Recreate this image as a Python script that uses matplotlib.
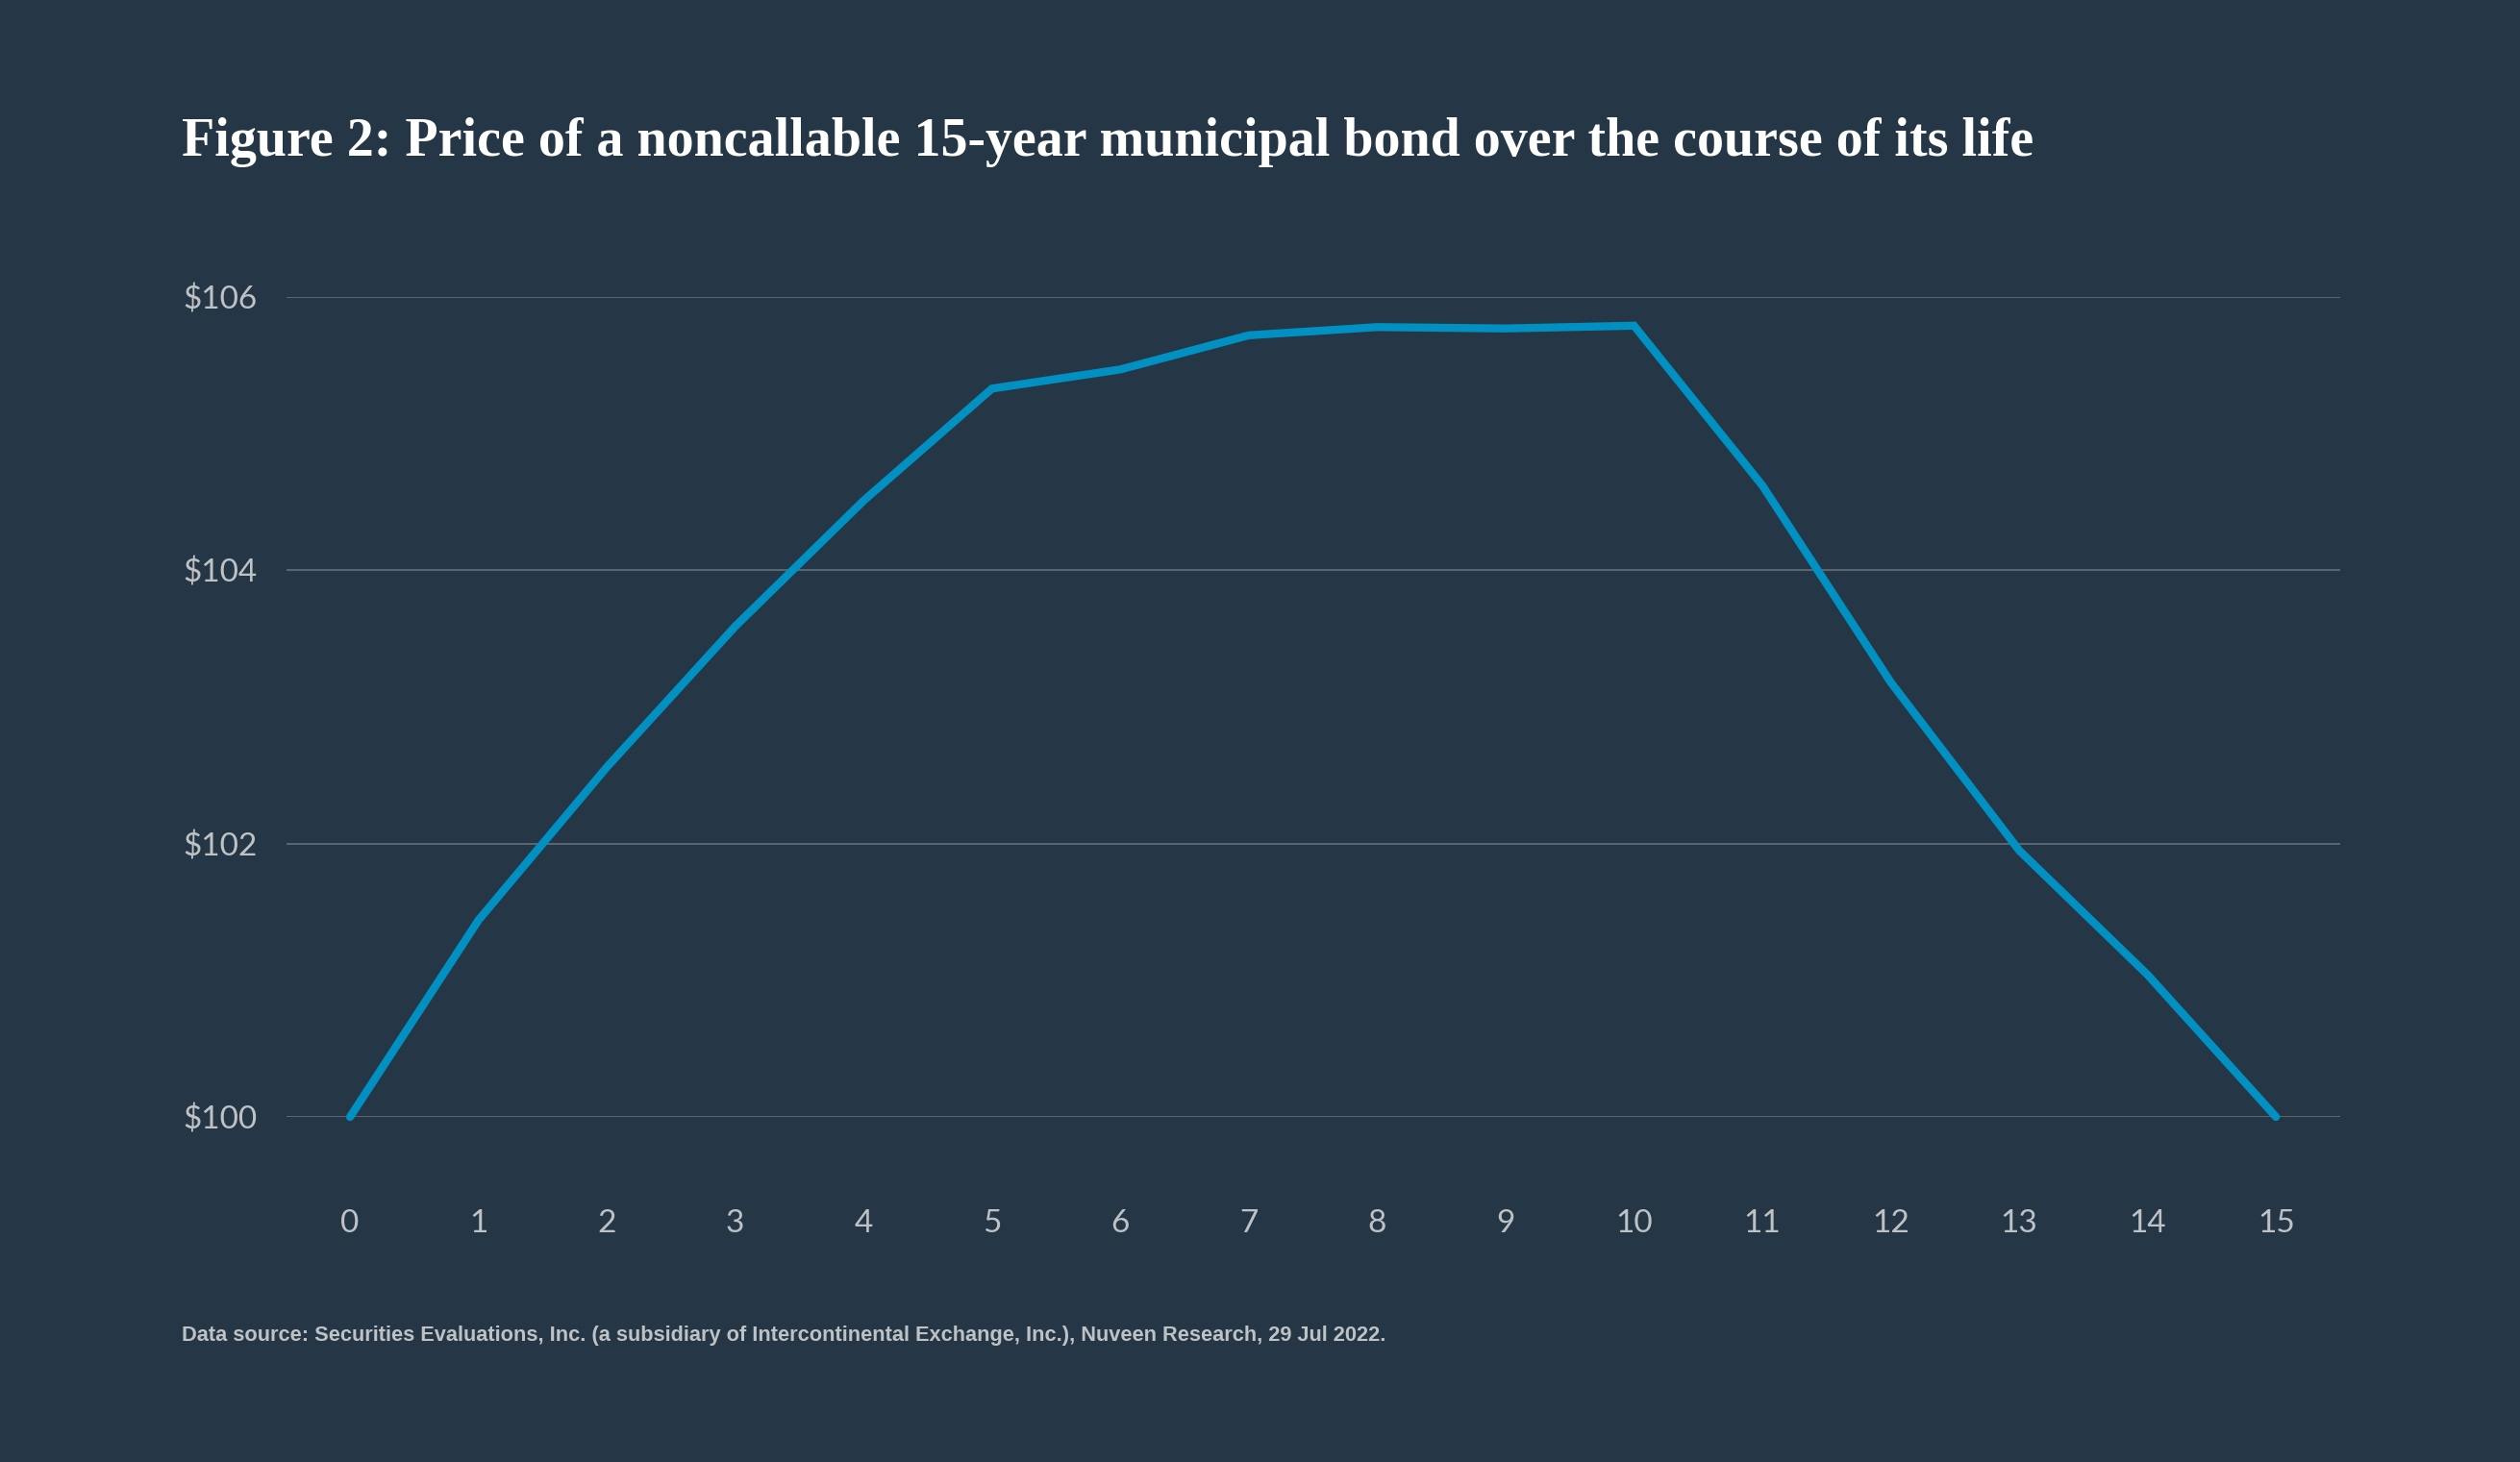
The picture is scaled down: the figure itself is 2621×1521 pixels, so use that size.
import matplotlib
matplotlib.use("Agg")
import matplotlib.pyplot as plt
import matplotlib.transforms as mtrans

years = list(range(16))
prices = [100.00, 101.44, 102.56, 103.59, 104.51, 105.33, 105.47, 105.72,
          105.78, 105.77, 105.79, 104.62, 103.18, 101.95, 101.04, 100.00]
y_ticks = [100, 102, 104, 106]
y_tick_labels = ["$100", "$102", "$104", "$106"]
title = "Figure 2: Price of a noncallable 15-year municipal bond over the course of its life"
source = ("Data source: Securities Evaluations, Inc. (a subsidiary of Intercontinental "
          "Exchange, Inc.), Nuveen Research, 29 Jul 2022.")

BG = "#253746"
LINE = "#0091C2"
GRID = "#5B6874"
TICK = "#BEC2C5"

W, H = 2621, 1521
fig = plt.figure(figsize=(W / 100, H / 100), dpi=100, facecolor=BG)

left = 298 / W
right = 2434 / W
bottom = (H - 1162) / H
top = (H - 309) / H
ax = fig.add_axes([left, bottom, right - left, top - bottom], facecolor=BG)

ax.plot(years, prices, color=LINE, lw=6, solid_capstyle="round",
        solid_joinstyle="miter", clip_on=False, zorder=3)

ax.set_xlim(-0.495, 15.5)
ax.set_ylim(100, 106)
ax.set_yticks(y_ticks)
ax.set_yticklabels(y_tick_labels)
ax.set_xticks(years)
ax.set_xticklabels([str(v) for v in years])
ax.grid(axis="y", color=GRID, lw=1.4)
ax.set_axisbelow(True)
for s in ax.spines.values():
    s.set_visible(False)
ax.tick_params(axis="both", length=0, colors=TICK, labelsize=24)
ax.tick_params(axis="x", pad=69)
ax.tick_params(axis="y", pad=0)
for lbl in ax.get_xticklabels() + ax.get_yticklabels():
    lbl.set_family(["Lato", "DejaVu Sans"])
offset = mtrans.ScaledTranslation(-(298 - 190) / 100, 0, fig.dpi_scale_trans)
for lbl in ax.get_yticklabels():
    lbl.set_horizontalalignment("left")
    lbl.set_transform(lbl.get_transform() + offset)

fig.text(189 / W, 1 - 162 / H, title, color="white", fontsize=40.3,
         fontweight="bold", family=["Liberation Serif", "DejaVu Serif"],
         ha="left", va="baseline")
fig.text(189 / W, 1 - 1395 / H, source, color=TICK, fontsize=15.7,
         fontweight="bold", family=["Liberation Sans", "DejaVu Sans"],
         ha="left", va="baseline")

fig.savefig("out.png", dpi=100, facecolor=BG)
